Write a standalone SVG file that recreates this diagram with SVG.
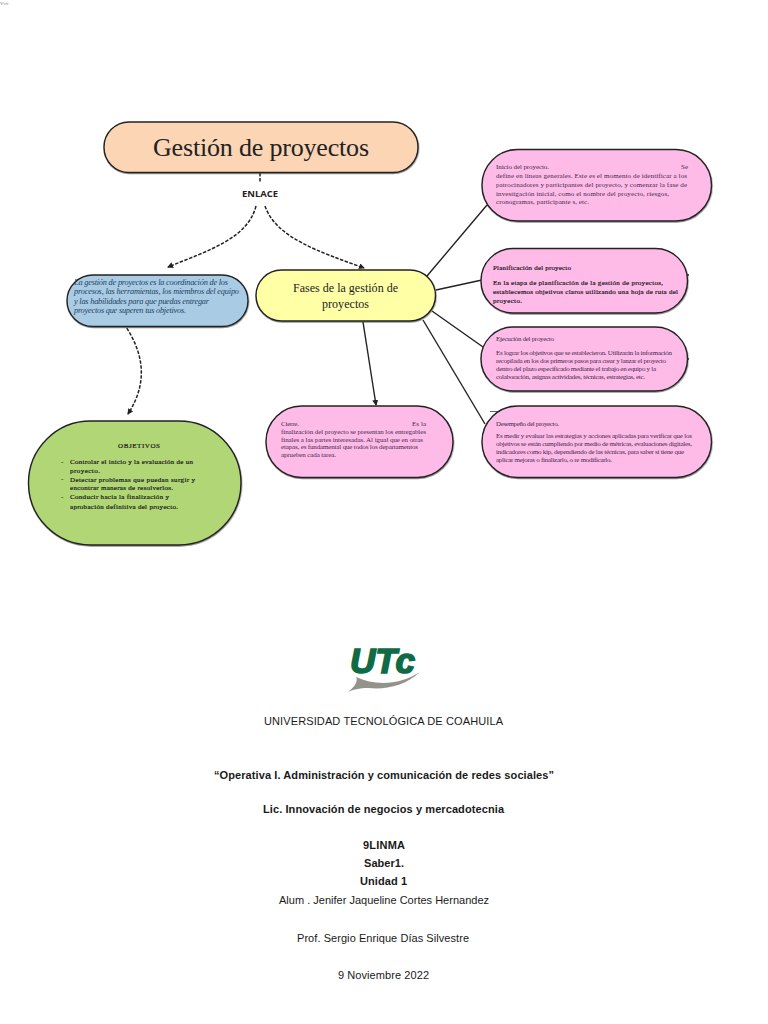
<svg xmlns="http://www.w3.org/2000/svg" width="768" height="1024" viewBox="0 0 768 1024">
<style>
.box{stroke:#222;stroke-width:1.4;filter:url(#sh)}
.s{font-family:"Liberation Serif",serif}
.a{font-family:"Liberation Sans",sans-serif;fill:#1a1a1a;font-size:11px}
.b{font-weight:bold}
.t{font-size:7px;fill:#3d2a4d}
.k{font-size:7px;fill:#1a1a1a;stroke:#1a1a1a;stroke-width:.2}
.i{font-size:8.3px;font-style:italic;fill:#23415f}
.c{fill:none;stroke:#222;stroke-width:1.4}
.d{fill:none;stroke:#222;stroke-width:1.5;stroke-dasharray:3.5 1.5}
</style>
<defs>
<filter id="sh" x="-5%" y="-10%" width="110%" height="120%"><feDropShadow dx="0.5" dy="1" stdDeviation="0.6" flood-color="#444" flood-opacity=".6"/></filter>
<marker id="ar" markerWidth="6" markerHeight="6" refX="5" refY="3" orient="auto" markerUnits="userSpaceOnUse"><path d="M0,0L6,3L0,6Z" fill="#222"/></marker>
</defs>
<rect width="768" height="1024" fill="#fff"/>
<text x="0" y="5" class="s" font-size="5" fill="#777">Vvv</text>

<g id="connectors">
<path class="c" d="M427,276L487,205"/>
<path class="c" d="M436,290L482,280"/>
<path class="c" d="M432,311L483,347"/>
<path class="c" d="M423,320L485,424"/>
<path class="c" d="M363,322L376,405" marker-end="url(#ar)"/>
<path class="d" d="M260,173V182"/>
<path class="d" d="M256,206C248,238 210,250 168,267" marker-end="url(#ar)"/>
<path class="d" d="M265,206C276,238 320,252 364,268" marker-end="url(#ar)"/>
<path class="d" d="M124,324C142,350 150,380 128,414" marker-end="url(#ar)"/>
<path class="c" d="M687,275h2M687,359h2"/>
<path d="M490,411.500h14M506,411.500h4" fill="none" stroke="#666" stroke-width="1"/>
</g>

<g id="titulo">
<rect class="box" x="104" y="122" width="314" height="50.500" rx="25" fill="#fcd5b5"/>
<text class="s" x="153" y="156" font-size="26" fill="#222" textLength="216">Gestión de proyectos</text>
</g>

<g id="enlace">
<text x="242" y="197" font-family="'Open Sans',sans-serif" font-weight="bold" font-size="9.500" fill="#222" textLength="36" lengthAdjust="spacingAndGlyphs">ENLACE</text>
</g>

<g id="definicion">
<rect class="box" x="67" y="275" width="181" height="51.500" rx="26" fill="#a9cbe4"/>
<g class="s i">
<text x="74" y="285" textLength="154">La gestión de proyectos es la coordinación de los</text>
<text x="74" y="294" textLength="165">procesos, las herramientas, los miembros del equipo</text>
<text x="74" y="303.500" textLength="135">y las habilidades para que puedas entregar</text>
<text x="74" y="312.500" textLength="112">proyectos que superen tus objetivos.</text>
</g>
</g>

<g id="fases">
<rect class="box" x="256" y="270" width="179.500" height="51" rx="25.500" fill="#ffffa6"/>
<text class="s" x="293" y="292" font-size="12" fill="#222" textLength="105">Fases de la gestión de</text>
<text class="s" x="322" y="308" font-size="12" fill="#222" textLength="47">proyectos</text>
</g>

<g id="objetivos">
<rect class="box" x="28.500" y="421" width="212.500" height="124" rx="62" fill="#b0d676"/>
<g class="s k">
<text x="118" y="448" textLength="42">OBJETIVOS</text>
<text x="61" y="464">-</text>
<text x="70" y="464" textLength="123">Controlar el inicio y la evaluación de un</text>
<text x="70" y="472.500" textLength="30">proyecto.</text>
<text x="61" y="481">-</text>
<text x="70" y="481.500" textLength="125">Detectar problemas que puedan surgir y</text>
<text x="70" y="490" textLength="103">encontrar maneras de resolverlos.</text>
<text x="61" y="499">-</text>
<text x="70" y="499" textLength="99">Conducir hacia la finalización y</text>
<text x="70" y="509" textLength="108">aprobación definitiva del proyecto.</text>
</g>
</g>

<g id="inicio">
<rect class="box" x="482" y="149.500" width="229.500" height="71.500" rx="35.500" fill="#ffbbe8"/>
<g class="s t">
<text x="496" y="169" textLength="53">Inicio del proyecto.</text>
<text x="681" y="169">Se</text>
<text x="496" y="178" textLength="191">define en líneas generales. Este es el momento de identificar a los</text>
<text x="496" y="187" textLength="191">patrocinadores y participantes del proyecto, y comenzar la fase de</text>
<text x="496" y="195.500" textLength="173">investigación inicial, como el nombre del proyecto, riesgos,</text>
<text x="496" y="204" textLength="93">cronogramas, participante s, etc.</text>
</g>
</g>

<g id="planificacion">
<rect class="box" x="481" y="248.500" width="206.500" height="64.500" rx="32" fill="#ffbbe8"/>
<g class="s k">
<text x="493" y="269.500" textLength="78">Planificación del proyecto</text>
<text x="493" y="284.500" textLength="170">En la etapa de planificación de la gestión de proyectos,</text>
<text x="493" y="293.500" textLength="185">establecemos objetivos claros utilizando una hoja de ruta del</text>
<text x="493" y="302.500" textLength="29">proyecto.</text>
</g>
</g>

<g id="ejecucion">
<rect class="box" x="481" y="327" width="206.500" height="64" rx="32" fill="#ffbbe8"/>
<g class="s t">
<text x="496" y="341" textLength="58">Ejecución del proyecto</text>
<text x="496" y="355" textLength="176">Es lograr los objetivos que se establecieron. Utilizarán la información</text>
<text x="496" y="363" textLength="170">recopilada en los dos primeros pasos para crear y lanzar el proyecto</text>
<text x="496" y="371" textLength="160">dentro del plazo especificado mediante el trabajo en equipo y la</text>
<text x="496" y="378.500" textLength="149">colaboración, asignas actividades, técnicas, estrategias, etc.</text>
</g>
</g>

<g id="desempeno">
<rect class="box" x="482" y="406" width="229.500" height="71.500" rx="35.500" fill="#ffbbe8"/>
<g class="s t">
<text x="496" y="426" textLength="63">Desempeño del proyecto.</text>
<text x="496" y="438" textLength="196">Es medir y evaluar las estrategias y acciones aplicadas para verificar que los</text>
<text x="496" y="445.500" textLength="196">objetivos se están cumpliendo por medio de métricas, evaluaciones digitales,</text>
<text x="496" y="453.500" textLength="188">indicadores como kip, dependiendo de las  técnicas, para saber si tiene que</text>
<text x="496" y="462" textLength="116">aplicar mejoras o finalizarlo, o re modificarlo.</text>
</g>
</g>

<g id="cierre">
<rect class="box" x="266" y="406" width="187" height="71.500" rx="35.500" fill="#ffbbe8"/>
<g class="s t">
<text x="281" y="426" textLength="18">Cierre.</text>
<text x="412" y="426" textLength="14">Es la</text>
<text x="281" y="433.500" textLength="145">finalización del proyecto se presentan los entregables</text>
<text x="281" y="441.500" textLength="142">finales a las partes interesadas. Al igual que en otras</text>
<text x="281" y="449" textLength="137">etapas, es fundamental que todos los departamentos</text>
<text x="281" y="457" textLength="55">aprueben cada tarea.</text>
</g>
</g>

<g id="logo">
<path d="M348,692C356,686 358,680 356,677C375,686 400,685 420,672C405,686 385,690 368,688C360,688 352,690 348,692Z" fill="#93938c"/>
<text x="350" y="673" font-family="'Liberation Sans',sans-serif" font-weight="bold" font-style="italic" font-size="35" fill="#0f6b45" stroke="#0f6b45" stroke-width="1.600" textLength="65" lengthAdjust="spacingAndGlyphs">UTc</text>
</g>

<g id="portada">
<text class="a" x="264" y="725" textLength="239">UNIVERSIDAD TECNOLÓGICA DE COAHUILA</text>
<text class="a b" x="214" y="779" textLength="340">“Operativa I. Administración y comunicación de redes sociales”</text>
<text class="a b" x="263" y="813" textLength="241">Lic. Innovación de negocios y mercadotecnia</text>
<text class="a b" x="363" y="849" textLength="42">9LINMA</text>
<text class="a b" x="364" y="867" textLength="40">Saber1.</text>
<text class="a b" x="360" y="885" textLength="47">Unidad 1</text>
<text class="a" x="279" y="904" textLength="210">Alum . Jenifer Jaqueline Cortes Hernandez</text>
<text class="a" x="297" y="942" textLength="172">Prof. Sergio Enrique Días Silvestre</text>
<text class="a" x="338" y="979" textLength="91">9 Noviembre 2022</text>
</g>
</svg>
